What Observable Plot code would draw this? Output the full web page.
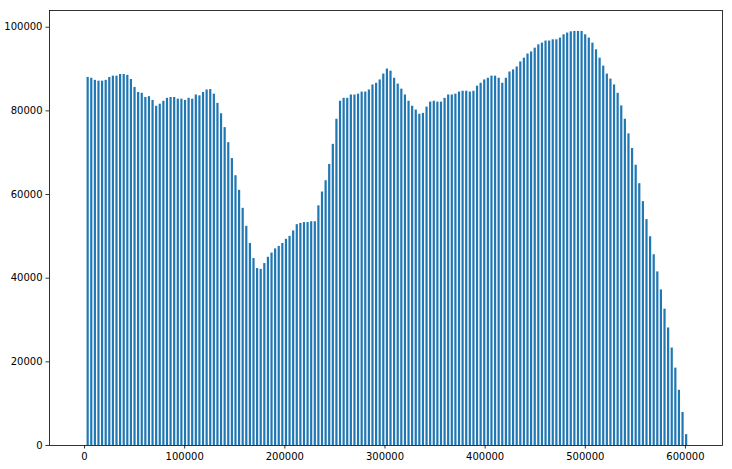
<!DOCTYPE html>
<html><head><meta charset="utf-8">
<script src="https://cdn.jsdelivr.net/npm/d3@7"></script>
<script src="https://cdn.jsdelivr.net/npm/@observablehq/plot@0.6"></script>
<style>body{margin:0;background:#fff}</style>
</head><body><div id="chart"></div>
<script>
// bar positions: evenly spaced bins
const binStep = 3600;
const counts = [
88000,87800,87300,87100,87100,87300,88000,88300,88300,88700,
88700,88500,87500,85600,84400,84200,83200,83400,82500,81100,
81600,82300,83000,83200,83200,82800,82800,82500,83000,82800,
83800,83600,84400,85000,85100,84000,81800,79300,76000,72400,
68600,64500,61000,56700,52400,48300,44700,42300,42100,43500,
45000,46000,47000,47600,48300,49300,50000,51300,52800,53100,
53300,53300,53500,53500,57300,60600,63300,67200,72000,78000,
82300,83000,83000,83800,83800,84000,84500,84500,85000,86200,
86600,87400,88800,90000,89500,87800,86400,85200,83800,82300,
81100,80200,79200,79400,80900,82100,82300,82100,82100,83000,
83800,83800,84000,84500,84700,84700,84500,84700,85900,86600,
87400,87800,88300,88300,87800,86600,87800,89300,89800,90500,
91700,92600,93600,94100,95000,95800,96200,96700,96700,97000,
97000,97400,98200,98600,98900,99000,99000,99000,98200,97400,
96200,94600,92600,90700,88800,87600,86200,84200,81200,78000,
74500,71000,67000,62600,58300,54000,49900,45600,41500,37200,
32600,28100,23300,18500,13200,7900,2600
];
const xTicks = [0,100000,200000,300000,400000,500000,600000];
const yTicks = [0,20000,40000,60000,80000,100000];

const data = counts.map((y, i) => ({x: (i + 1) * binStep, y}));
const halfW = 1100;

const chart = Plot.plot({
  width: 732, height: 469,
  marginLeft: 49, marginRight: 10, marginTop: 10, marginBottom: 24,
  style: {fontFamily: "DejaVu Sans", fontSize: "10px", color: "#000", background: "#fff"},
  x: {domain: [-35000, 637000]},
  y: {domain: [0, 104000]},
  marks: [
    Plot.rectY(data, {x1: d => d.x - halfW, x2: d => d.x + halfW, y: "y", fill: "#1f77b4"}),
    Plot.frame({stroke: "#000", strokeWidth: 0.8}),
    Plot.axisX({ticks: xTicks, tickSize: 3.5, tickPadding: 3.5, tickFormat: "d", label: null, strokeWidth: 0.8}),
    Plot.axisY({ticks: yTicks, tickSize: 3.5, tickPadding: 3.5, tickFormat: "d", label: null, strokeWidth: 0.8})
  ]
});
document.getElementById("chart").appendChild(chart);
</script>
</body></html>
